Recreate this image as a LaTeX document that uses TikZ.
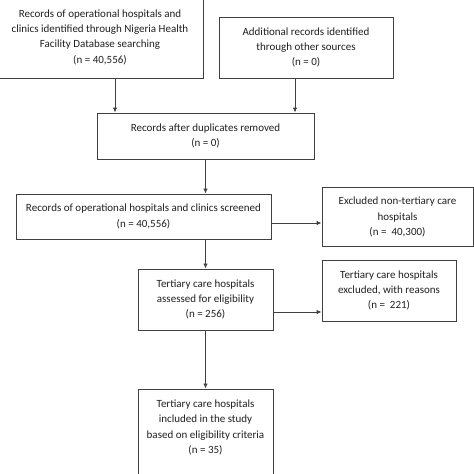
\documentclass[tikz,border=0pt]{standalone}
\usepackage{fontspec}
\setmainfont{Carlito}
\usetikzlibrary{arrows.meta}
\definecolor{linec}{HTML}{404040}
\definecolor{textc}{HTML}{202020}
\begin{document}
\begin{tikzpicture}[x=1pt,y=-1pt,
  box/.style={draw=linec,line width=0.9pt,rectangle,inner sep=0pt,align=center,
    text=textc,font=\fontsize{11}{15.3}\selectfont},
  arr/.style={draw=linec,line width=0.9pt,-{Latex[length=5pt,width=4.5pt]}}]
\useasboundingbox (0,0) rectangle (474,474);
\clip (0,0) rectangle (474,474);
\fill[white] (0,0) rectangle (474,474);
\node[box,minimum width=206pt,minimum height=82pt] (b1) at (100,37)
  {Records of operational hospitals and\\clinics identified through Nigeria Health\\Facility Database searching\\(n = 40,556)};
\node[box,minimum width=174pt,minimum height=61pt] (b2) at (306,47.5)
  {Additional records identified\\through other sources\\(n = 0)};
\node[box,minimum width=217pt,minimum height=46pt] (b3) at (205.5,136)
  {Records after duplicates removed\\(n = 0)};
\node[box,minimum width=255pt,minimum height=45pt] (b4) at (143.5,216.5)
  {Records of operational hospitals and clinics screened\\(n = 40,556)};
\node[box,minimum width=151pt,minimum height=59pt] (b5) at (397.5,217)
  {Excluded non-tertiary care\\hospitals\\(n = \ 40,300)};
\node[box,minimum width=135pt,minimum height=61pt] (b6) at (205.5,299.5)
  {Tertiary care hospitals\\assessed for eligibility\\(n = 256)};
\node[box,minimum width=134pt,minimum height=61pt] (b7) at (389,290.5)
  {Tertiary care hospitals\\excluded, with reasons\\(n = \ 221)};
\node[box,minimum width=135pt,minimum height=90pt] (b8) at (205.5,434)
  {};
\node[align=center,text=textc,font=\fontsize{11}{15.5}\selectfont,inner sep=0pt] (t8) at (205.5,427.5)
  {Tertiary care hospitals\\included in the study\\based on eligibility criteria\\(n = 35)};
\draw[arr] ([xshift=15pt]b1.south) -- ([xshift=15pt]b1.south |- b3.north);
\draw[arr] ([xshift=-11pt]b2.south) -- ([xshift=-11pt]b2.south |- b3.north);
\draw[arr] (b3.south) -- (b3.south |- b4.north);
\draw[arr] ([yshift=-6.5pt]b4.east) -- ([yshift=-6.5pt]b4.east -| b5.west);
\draw[arr] (b6.north |- b4.south) -- (b6.north);
\draw[arr] ([yshift=-12.5pt]b6.east) -- ([yshift=-12.5pt]b6.east -| b7.west);
\draw[arr] (b6.south) -- (b8.north);
\end{tikzpicture}
\end{document}
